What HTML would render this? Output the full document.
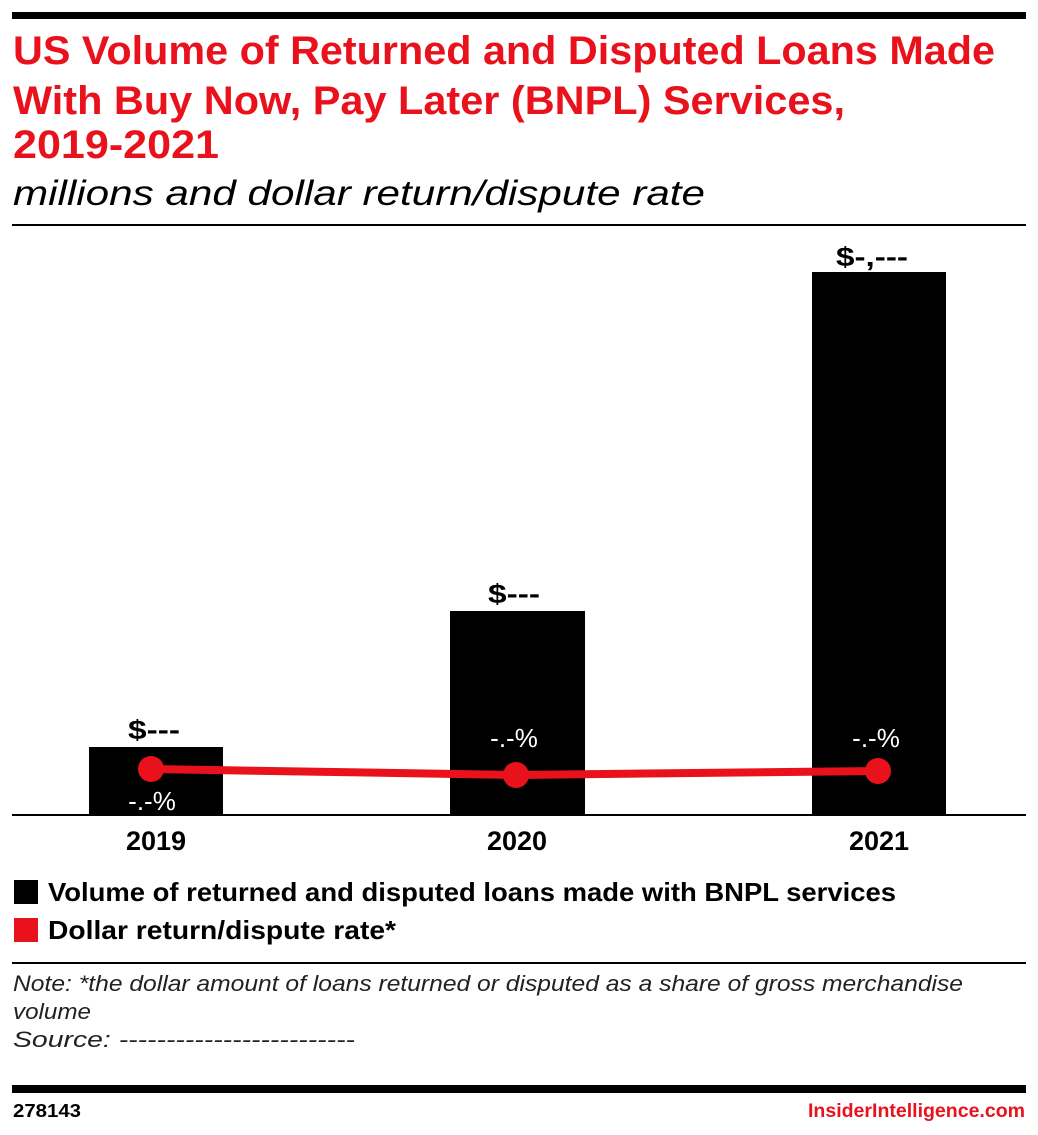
<!DOCTYPE html>
<html><head><meta charset="utf-8"><style>html,body{margin:0;padding:0;background:#fff}svg{display:block}</style></head>
<body>
<svg width="1038" height="1135" viewBox="0 0 1038 1135" xmlns="http://www.w3.org/2000/svg" font-family="Liberation Sans, sans-serif">
<rect x="12" y="12" width="1014" height="7" fill="#000"/>
<g fill="#e8111c" font-weight="bold" font-size="40">
<text x="13" y="64" textLength="982" lengthAdjust="spacingAndGlyphs">US Volume of Returned and Disputed Loans Made</text>
<text x="13" y="114" textLength="832" lengthAdjust="spacingAndGlyphs">With Buy Now, Pay Later (BNPL) Services,</text>
<text x="13" y="158" textLength="206" lengthAdjust="spacingAndGlyphs">2019-2021</text>
</g>
<text x="13" y="205" font-size="35" font-style="italic" textLength="692" lengthAdjust="spacingAndGlyphs">millions and dollar return/dispute rate</text>
<rect x="12" y="224" width="1014" height="2" fill="#000"/>
<rect x="89" y="747" width="134" height="68" fill="#000"/>
<rect x="450" y="611" width="135" height="204" fill="#000"/>
<rect x="812" y="272" width="134" height="543" fill="#000"/>
<rect x="12" y="814" width="1014" height="2" fill="#000"/>
<g font-weight="bold" font-size="27" text-anchor="middle">
<text x="154" y="739" textLength="52" lengthAdjust="spacingAndGlyphs">$---</text>
<text x="514" y="603" textLength="52" lengthAdjust="spacingAndGlyphs">$---</text>
<text x="872" y="266" textLength="72" lengthAdjust="spacingAndGlyphs">$-,---</text>
<text x="156" y="850">2019</text>
<text x="517" y="850">2020</text>
<text x="879" y="850">2021</text>
</g>
<polyline points="151,769 516,775 878,771" fill="none" stroke="#e8111c" stroke-width="8"/>
<circle cx="151" cy="769" r="13" fill="#e8111c"/>
<circle cx="516" cy="775" r="13" fill="#e8111c"/>
<circle cx="878" cy="771" r="13" fill="#e8111c"/>
<g fill="#fff" font-size="26" text-anchor="middle">
<text x="152" y="810">-.-%</text>
<text x="514" y="747">-.-%</text>
<text x="876" y="747">-.-%</text>
</g>
<rect x="14" y="880" width="24" height="24" fill="#000"/>
<text x="48" y="901" font-size="26" font-weight="bold" textLength="848" lengthAdjust="spacingAndGlyphs">Volume of returned and disputed loans made with BNPL services</text>
<rect x="14" y="918" width="24" height="24" fill="#e8111c"/>
<text x="48" y="939" font-size="26" font-weight="bold" textLength="348" lengthAdjust="spacingAndGlyphs">Dollar return/dispute rate*</text>
<rect x="12" y="962" width="1014" height="2" fill="#000"/>
<g font-size="22" font-style="italic" fill="#222">
<text x="13" y="991" textLength="950" lengthAdjust="spacingAndGlyphs">Note: *the dollar amount of loans returned or disputed as a share of gross merchandise</text>
<text x="13" y="1019" textLength="78" lengthAdjust="spacingAndGlyphs">volume</text>
<text x="13" y="1047" textLength="342" lengthAdjust="spacingAndGlyphs">Source: -------------------------</text>
</g>
<rect x="12" y="1085" width="1014" height="8" fill="#000"/>
<text x="13" y="1117" font-size="18" font-weight="bold" textLength="68" lengthAdjust="spacingAndGlyphs">278143</text>
<text x="1025" y="1117" font-size="19" font-weight="bold" fill="#e8111c" text-anchor="end" textLength="217" lengthAdjust="spacingAndGlyphs">InsiderIntelligence.com</text>
</svg>
</body></html>
